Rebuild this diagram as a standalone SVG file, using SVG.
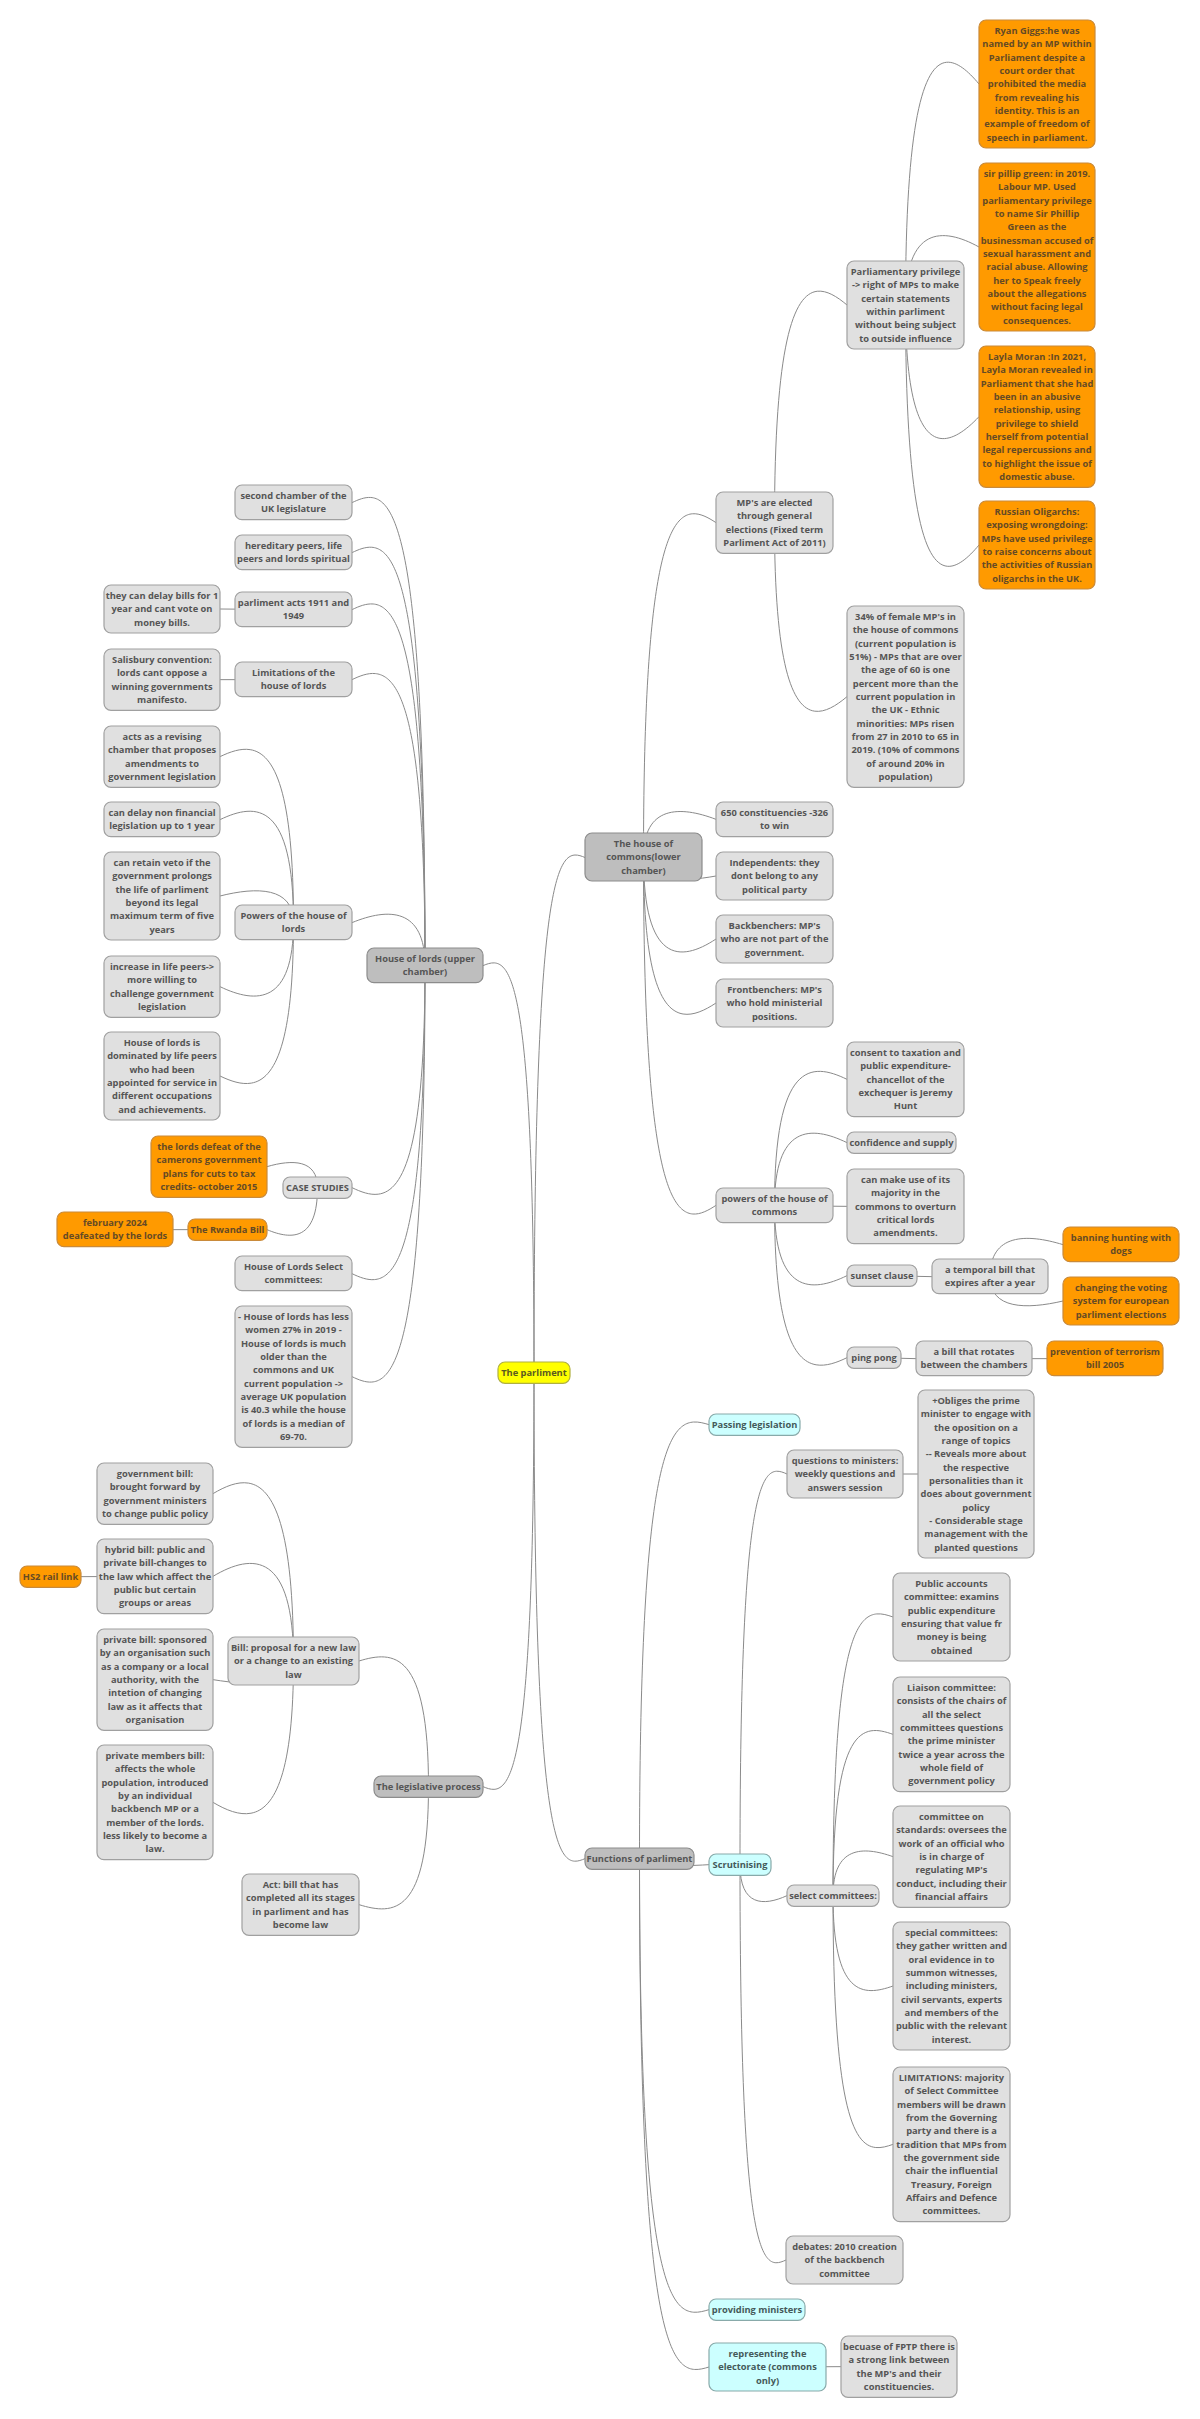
<svg xmlns="http://www.w3.org/2000/svg" width="1200" height="2419" viewBox="0 0 1200 2419">
<style>
.bg{fill:#ffffff}
.e path{fill:none;stroke:#8a8a8a;stroke-width:1}
rect{rx:7px;ry:7px;stroke-width:1.2}
.n rect{fill:#e0e0e0;stroke:#a0a0a0}
.m rect{fill:#bebebe;stroke:#8c8c8c}
.o rect{fill:#ff9a00;stroke:#c98a3a}
.c rect{fill:#ccffff;stroke:#88aaaa}
.r rect{fill:#ffff00;stroke:#b0b040}
text{font-family:"Open Sans","Noto Sans","DejaVu Sans",sans-serif;font-weight:700;font-size:9.3px;fill:#555555;text-anchor:middle}
.o text{fill:#654a25}
.c text{fill:#445a5a}
.r text{fill:#5a5a20}
</style>
<rect class="bg" x="0" y="0" width="1200" height="2419"/>
<g id="connectors" class="e">
<path d="M534 1372.65 C534 846.85 559.5 846.85 585 857.5"/>
<path d="M534 1372.65 C534 954.85 508.5 954.85 483 965.65"/>
<path d="M534 1372.65 C534 1797.3 508.5 1797.3 483 1786.65"/>
<path d="M534 1372.65 C534 1869.3 559.5 1869.3 585 1858.65"/>
<path d="M643.5 857 C643.5 498.5 679.75 498.5 716 522.65"/>
<path d="M643.5 857 C643.5 805.5 679.75 805.5 716 819.35"/>
<path d="M643.5 857 C643.5 882.5 679.75 882.5 716 876"/>
<path d="M643.5 857 C643.5 963 679.75 963 716 939"/>
<path d="M643.5 857 C643.5 1027 679.75 1027 716 1003"/>
<path d="M643.5 857 C643.5 1229.3 679.75 1229.3 716 1205.35"/>
<path d="M774.5 522.65 C774.5 274.35 810.75 274.35 847 305"/>
<path d="M774.5 522.65 C774.5 727.3 810.75 727.3 847 696.65"/>
<path d="M905.5 305 C905.5 40 942.25 40 979 84"/>
<path d="M905.5 305 C905.5 226.7 942.25 226.7 979 247"/>
<path d="M905.5 305 C905.5 455.8 942.25 455.8 979 416.65"/>
<path d="M905.5 305 C905.5 589 942.25 589 979 545"/>
<path d="M774.5 1205.65 C774.5 1061.65 810.75 1061.65 847 1079.35"/>
<path d="M774.5 1205.65 C774.5 1125 810.75 1125 847 1142.65"/>
<path d="M774.5 1205.65 L847 1206.35"/>
<path d="M774.5 1205.65 C774.5 1293.3 810.75 1293.3 847 1275.65"/>
<path d="M774.5 1205.65 C774.5 1375.3 810.75 1375.3 847 1357.65"/>
<path d="M882 1275.65 L932 1276.65"/>
<path d="M990 1276.65 C990 1233.45 1026.5 1233.45 1063 1244.65"/>
<path d="M990 1276.65 C990 1309.5 1026.5 1309.5 1063 1301"/>
<path d="M874 1357.65 L916 1358.65"/>
<path d="M974 1358.65 L1047 1358.65"/>
<path d="M639.5 1858.65 C639.5 1414 674.25 1414 709 1424.65"/>
<path d="M639.5 1858.65 C639.5 1866.75 674.25 1866.75 709 1864.65"/>
<path d="M639.5 1858.65 C639.5 2320.3 674.25 2320.3 709 2309.65"/>
<path d="M639.5 1858.65 C639.5 2377.65 674.25 2377.65 709 2367"/>
<path d="M740 1864.65 C740 1463.35 763.5 1463.35 787 1474"/>
<path d="M740 1864.65 C740 1906.3 763.5 1906.3 787 1895.65"/>
<path d="M740 1864.65 C740 2270.65 763 2270.65 786 2260"/>
<path d="M845 1474 L918 1474"/>
<path d="M833 1895.65 C833 1606.35 863 1606.35 893 1617"/>
<path d="M833 1895.65 C833 1723.65 863 1723.65 893 1734.35"/>
<path d="M833 1895.65 C833 1846 863 1846 893 1856.65"/>
<path d="M833 1895.65 C833 1996.65 863 1996.65 893 1986"/>
<path d="M833 1895.65 C833 2155 863 2155 893 2144.35"/>
<path d="M767.5 2367 L841 2366.65"/>
<path d="M425 965.65 C425 485 388.5 485 352 502.65"/>
<path d="M425 965.65 C425 535 388.5 535 352 552.65"/>
<path d="M425 965.65 C425 592 388.5 592 352 609.65"/>
<path d="M425 965.65 C425 662 388.5 662 352 679.65"/>
<path d="M425 965.65 C425 907.6 388.5 907.6 352 922.65"/>
<path d="M425 965.65 C425 1205.3 388.5 1205.3 352 1187.65"/>
<path d="M425 965.65 C425 1291.3 388.5 1291.3 352 1273.65"/>
<path d="M425 965.65 C425 1394.3 388.5 1394.3 352 1376.65"/>
<path d="M293.5 609.65 L220 609"/>
<path d="M293.5 679.65 L220 679.65"/>
<path d="M293.5 922.65 C293.5 739 256.75 739 220 756.65"/>
<path d="M293.5 922.65 C293.5 802 256.75 802 220 819.65"/>
<path d="M293.5 922.65 C293.5 886.7 256.75 886.7 220 896"/>
<path d="M293.5 922.65 C293.5 1004.3 256.75 1004.3 220 986.65"/>
<path d="M293.5 922.65 C293.5 1093.65 256.75 1093.65 220 1076"/>
<path d="M317.5 1187.65 C317.5 1159.3 292.25 1159.3 267 1166.65"/>
<path d="M317.5 1187.65 C317.5 1240.3 292.25 1240.3 267 1229.65"/>
<path d="M227.5 1229.65 L173 1229.65"/>
<path d="M428.5 1786.65 C428.5 1650.35 393.75 1650.35 359 1661"/>
<path d="M428.5 1786.65 C428.5 1915.3 393.75 1915.3 359 1904.65"/>
<path d="M293.5 1661 C293.5 1469.65 253.25 1469.65 213 1493.65"/>
<path d="M293.5 1661 C293.5 1552.3 253.25 1552.3 213 1576.35"/>
<path d="M293.5 1661 C293.5 1686.2 253.25 1686.2 213 1679.65"/>
<path d="M293.5 1661 C293.5 1826.3 253.25 1826.3 213 1802.35"/>
<path d="M155 1576.35 L81 1576.65"/>
</g>

<g id="root" class="r"><rect x="498" y="1362" width="72" height="21.3"/><text y="1376"><tspan x="534">The parliment</tspan></text></g>

<g id="commons" class="m"><rect x="585" y="833" width="117" height="48"/><text y="847"><tspan x="643.5">The house of</tspan><tspan x="643.5" dy="13.33">commons(lower</tspan><tspan x="643.5" dy="13.33">chamber)</tspan></text></g>
<g id="mps-elected" class="n"><rect x="716" y="492" width="117" height="61.3"/><text y="506"><tspan x="774.5">MP's are elected</tspan><tspan x="774.5" dy="13.33">through general</tspan><tspan x="774.5" dy="13.33">elections (Fixed term</tspan><tspan x="774.5" dy="13.33">Parliment Act of 2011)</tspan></text></g>
<g id="privilege" class="n"><rect x="847" y="261" width="117" height="88"/><text y="275"><tspan x="905.5">Parliamentary privilege</tspan><tspan x="905.5" dy="13.33">-&gt; right of MPs to make</tspan><tspan x="905.5" dy="13.33">certain statements</tspan><tspan x="905.5" dy="13.33">within parliment</tspan><tspan x="905.5" dy="13.33">without being subject</tspan><tspan x="905.5" dy="13.33">to outside influence</tspan></text></g>
<g id="giggs" class="o"><rect x="979" y="20" width="116" height="128"/><text y="34"><tspan x="1037">Ryan Giggs:he was</tspan><tspan x="1037" dy="13.33">named by an MP within</tspan><tspan x="1037" dy="13.33">Parliament despite a</tspan><tspan x="1037" dy="13.33">court order that</tspan><tspan x="1037" dy="13.33">prohibited the media</tspan><tspan x="1037" dy="13.33">from revealing his</tspan><tspan x="1037" dy="13.33">identity. This is an</tspan><tspan x="1037" dy="13.33">example of freedom of</tspan><tspan x="1037" dy="13.33">speech in parliament.</tspan></text></g>
<g id="green" class="o"><rect x="979" y="163" width="116" height="168"/><text y="177"><tspan x="1037">sir pillip green: in 2019.</tspan><tspan x="1037" dy="13.33">Labour MP. Used</tspan><tspan x="1037" dy="13.33">parliamentary privilege</tspan><tspan x="1037" dy="13.33">to name Sir Phillip</tspan><tspan x="1037" dy="13.33">Green as the</tspan><tspan x="1037" dy="13.33">businessman accused of</tspan><tspan x="1037" dy="13.33">sexual harassment and</tspan><tspan x="1037" dy="13.33">racial abuse. Allowing</tspan><tspan x="1037" dy="13.33">her to Speak freely</tspan><tspan x="1037" dy="13.33">about the allegations</tspan><tspan x="1037" dy="13.33">without facing legal</tspan><tspan x="1037" dy="13.33">consequences.</tspan></text></g>
<g id="moran" class="o"><rect x="979" y="346" width="116" height="141.3"/><text y="360"><tspan x="1037">Layla Moran :In 2021,</tspan><tspan x="1037" dy="13.33">Layla Moran revealed in</tspan><tspan x="1037" dy="13.33">Parliament that she had</tspan><tspan x="1037" dy="13.33">been in an abusive</tspan><tspan x="1037" dy="13.33">relationship, using</tspan><tspan x="1037" dy="13.33">privilege to shield</tspan><tspan x="1037" dy="13.33">herself from potential</tspan><tspan x="1037" dy="13.33">legal repercussions and</tspan><tspan x="1037" dy="13.33">to highlight the issue of</tspan><tspan x="1037" dy="13.33">domestic abuse.</tspan></text></g>
<g id="oligarchs" class="o"><rect x="979" y="501" width="116" height="88"/><text y="515"><tspan x="1037">Russian Oligarchs:</tspan><tspan x="1037" dy="13.33">exposing wrongdoing:</tspan><tspan x="1037" dy="13.33">MPs have used privilege</tspan><tspan x="1037" dy="13.33">to raise concerns about</tspan><tspan x="1037" dy="13.33">the activities of Russian</tspan><tspan x="1037" dy="13.33">oligarchs in the UK.</tspan></text></g>
<g id="diversity" class="n"><rect x="847" y="606" width="117" height="181.3"/><text y="620"><tspan x="905.5">34% of female MP's in</tspan><tspan x="905.5" dy="13.33">the house of commons</tspan><tspan x="905.5" dy="13.33">(current population is</tspan><tspan x="905.5" dy="13.33">51%) - MPs that are over</tspan><tspan x="905.5" dy="13.33">the age of 60 is one</tspan><tspan x="905.5" dy="13.33">percent more than the</tspan><tspan x="905.5" dy="13.33">current population in</tspan><tspan x="905.5" dy="13.33">the UK - Ethnic</tspan><tspan x="905.5" dy="13.33">minorities: MPs risen</tspan><tspan x="905.5" dy="13.33">from 27 in 2010 to 65 in</tspan><tspan x="905.5" dy="13.33">2019. (10% of commons</tspan><tspan x="905.5" dy="13.33">of around 20% in</tspan><tspan x="905.5" dy="13.33">population)</tspan></text></g>
<g id="constituencies" class="n"><rect x="716" y="802" width="117" height="34.7"/><text y="816"><tspan x="774.5">650 constituencies -326</tspan><tspan x="774.5" dy="13.33">to win</tspan></text></g>
<g id="independents" class="n"><rect x="716" y="852" width="117" height="48"/><text y="866"><tspan x="774.5">Independents: they</tspan><tspan x="774.5" dy="13.33">dont belong to any</tspan><tspan x="774.5" dy="13.33">political party</tspan></text></g>
<g id="backbenchers" class="n"><rect x="716" y="915" width="117" height="48"/><text y="929"><tspan x="774.5">Backbenchers: MP's</tspan><tspan x="774.5" dy="13.33">who are not part of the</tspan><tspan x="774.5" dy="13.33">government.</tspan></text></g>
<g id="frontbenchers" class="n"><rect x="716" y="979" width="117" height="48"/><text y="993"><tspan x="774.5">Frontbenchers: MP's</tspan><tspan x="774.5" dy="13.33">who hold ministerial</tspan><tspan x="774.5" dy="13.33">positions.</tspan></text></g>
<g id="powers-commons" class="n"><rect x="716" y="1188" width="117" height="34.7"/><text y="1202"><tspan x="774.5">powers of the house of</tspan><tspan x="774.5" dy="13.33">commons</tspan></text></g>
<g id="consent" class="n"><rect x="847" y="1042" width="117" height="74.7"/><text y="1056"><tspan x="905.5">consent to taxation and</tspan><tspan x="905.5" dy="13.33">public expenditure-</tspan><tspan x="905.5" dy="13.33">chancellot of the</tspan><tspan x="905.5" dy="13.33">exchequer is Jeremy</tspan><tspan x="905.5" dy="13.33">Hunt</tspan></text></g>
<g id="confidence" class="n"><rect x="847" y="1132" width="109" height="21.3"/><text y="1146"><tspan x="901.5">confidence and supply</tspan></text></g>
<g id="majority" class="n"><rect x="847" y="1169" width="117" height="74.7"/><text y="1183"><tspan x="905.5">can make use of its</tspan><tspan x="905.5" dy="13.33">majority in the</tspan><tspan x="905.5" dy="13.33">commons to overturn</tspan><tspan x="905.5" dy="13.33">critical lords</tspan><tspan x="905.5" dy="13.33">amendments.</tspan></text></g>
<g id="sunset" class="n"><rect x="847" y="1265" width="70" height="21.3"/><text y="1279"><tspan x="882">sunset clause</tspan></text></g>
<g id="temporal" class="n"><rect x="932" y="1259" width="116" height="34.7"/><text y="1273"><tspan x="990">a temporal bill that</tspan><tspan x="990" dy="13.33">expires after a year</tspan></text></g>
<g id="hunting" class="o"><rect x="1063" y="1227" width="116" height="34.7"/><text y="1241"><tspan x="1121">banning hunting with</tspan><tspan x="1121" dy="13.33">dogs</tspan></text></g>
<g id="voting" class="o"><rect x="1063" y="1277" width="116" height="48"/><text y="1291"><tspan x="1121">changing the voting</tspan><tspan x="1121" dy="13.33">system for european</tspan><tspan x="1121" dy="13.33">parliment elections</tspan></text></g>
<g id="pingpong" class="n"><rect x="847" y="1347" width="54" height="21.3"/><text y="1361"><tspan x="874">ping pong</tspan></text></g>
<g id="rotates" class="n"><rect x="916" y="1341" width="116" height="34.7"/><text y="1355"><tspan x="974">a bill that rotates</tspan><tspan x="974" dy="13.33">between the chambers</tspan></text></g>
<g id="terrorism" class="o"><rect x="1047" y="1341" width="116" height="34.7"/><text y="1355"><tspan x="1105">prevention of terrorism</tspan><tspan x="1105" dy="13.33">bill 2005</tspan></text></g>

<g id="functions" class="m"><rect x="585" y="1848" width="109" height="21.3"/><text y="1862"><tspan x="639.5">Functions of parliment</tspan></text></g>
<g id="passing" class="c"><rect x="709" y="1414" width="91" height="21.3"/><text y="1428"><tspan x="754.5">Passing legislation</tspan></text></g>
<g id="scrutinising" class="c"><rect x="709" y="1854" width="62" height="21.3"/><text y="1868"><tspan x="740">Scrutinising</tspan></text></g>
<g id="questions" class="n"><rect x="787" y="1450" width="116" height="48"/><text y="1464"><tspan x="845">questions to ministers:</tspan><tspan x="845" dy="13.33">weekly questions and</tspan><tspan x="845" dy="13.33">answers session</tspan></text></g>
<g id="pmq" class="n"><rect x="918" y="1390" width="116" height="168"/><text y="1404"><tspan x="976">+Obliges the prime</tspan><tspan x="976" dy="13.33">minister to engage with</tspan><tspan x="976" dy="13.33">the oposition on a</tspan><tspan x="976" dy="13.33">range of topics</tspan><tspan x="976" dy="13.33">-- Reveals more about</tspan><tspan x="976" dy="13.33">the respective</tspan><tspan x="976" dy="13.33">personalities than it</tspan><tspan x="976" dy="13.33">does about government</tspan><tspan x="976" dy="13.33">policy</tspan><tspan x="976" dy="13.33">- Considerable stage</tspan><tspan x="976" dy="13.33">management with the</tspan><tspan x="976" dy="13.33">planted questions</tspan></text></g>
<g id="select" class="n"><rect x="787" y="1885" width="92" height="21.3"/><text y="1899"><tspan x="833">select committees:</tspan></text></g>
<g id="public-accounts" class="n"><rect x="893" y="1573" width="117" height="88"/><text y="1587"><tspan x="951.5">Public accounts</tspan><tspan x="951.5" dy="13.33">committee: examins</tspan><tspan x="951.5" dy="13.33">public expenditure</tspan><tspan x="951.5" dy="13.33">ensuring that value fr</tspan><tspan x="951.5" dy="13.33">money is being</tspan><tspan x="951.5" dy="13.33">obtained</tspan></text></g>
<g id="liaison" class="n"><rect x="893" y="1677" width="117" height="114.7"/><text y="1691"><tspan x="951.5">Liaison committee:</tspan><tspan x="951.5" dy="13.33">consists of the chairs of</tspan><tspan x="951.5" dy="13.33">all the select</tspan><tspan x="951.5" dy="13.33">committees questions</tspan><tspan x="951.5" dy="13.33">the prime minister</tspan><tspan x="951.5" dy="13.33">twice a year across the</tspan><tspan x="951.5" dy="13.33">whole field of</tspan><tspan x="951.5" dy="13.33">government policy</tspan></text></g>
<g id="standards" class="n"><rect x="893" y="1806" width="117" height="101.3"/><text y="1820"><tspan x="951.5">committee on</tspan><tspan x="951.5" dy="13.33">standards: oversees the</tspan><tspan x="951.5" dy="13.33">work of an official who</tspan><tspan x="951.5" dy="13.33">is in charge of</tspan><tspan x="951.5" dy="13.33">regulating MP's</tspan><tspan x="951.5" dy="13.33">conduct, including their</tspan><tspan x="951.5" dy="13.33">financial affairs</tspan></text></g>
<g id="special" class="n"><rect x="893" y="1922" width="117" height="128"/><text y="1936"><tspan x="951.5">special committees:</tspan><tspan x="951.5" dy="13.33">they gather written and</tspan><tspan x="951.5" dy="13.33">oral evidence in to</tspan><tspan x="951.5" dy="13.33">summon witnesses,</tspan><tspan x="951.5" dy="13.33">including ministers,</tspan><tspan x="951.5" dy="13.33">civil servants, experts</tspan><tspan x="951.5" dy="13.33">and members of the</tspan><tspan x="951.5" dy="13.33">public with the relevant</tspan><tspan x="951.5" dy="13.33">interest.</tspan></text></g>
<g id="sc-limitations" class="n"><rect x="893" y="2067" width="117" height="154.7"/><text y="2081"><tspan x="951.5">LIMITATIONS: majority</tspan><tspan x="951.5" dy="13.33">of Select Committee</tspan><tspan x="951.5" dy="13.33">members will be drawn</tspan><tspan x="951.5" dy="13.33">from the Governing</tspan><tspan x="951.5" dy="13.33">party and there is a</tspan><tspan x="951.5" dy="13.33">tradition that MPs from</tspan><tspan x="951.5" dy="13.33">the government side</tspan><tspan x="951.5" dy="13.33">chair the influential</tspan><tspan x="951.5" dy="13.33">Treasury, Foreign</tspan><tspan x="951.5" dy="13.33">Affairs and Defence</tspan><tspan x="951.5" dy="13.33">committees.</tspan></text></g>
<g id="debates" class="n"><rect x="786" y="2236" width="117" height="48"/><text y="2250"><tspan x="844.5">debates: 2010 creation</tspan><tspan x="844.5" dy="13.33">of the backbench</tspan><tspan x="844.5" dy="13.33">committee</tspan></text></g>
<g id="providing" class="c"><rect x="709" y="2299" width="96" height="21.3"/><text y="2313"><tspan x="757">providing ministers</tspan></text></g>
<g id="representing" class="c"><rect x="709" y="2343" width="117" height="48"/><text y="2357"><tspan x="767.5">representing the</tspan><tspan x="767.5" dy="13.33">electorate (commons</tspan><tspan x="767.5" dy="13.33">only)</tspan></text></g>
<g id="fptp" class="n"><rect x="841" y="2336" width="116" height="61.3"/><text y="2350"><tspan x="899">becuase of FPTP there is</tspan><tspan x="899" dy="13.33">a strong link between</tspan><tspan x="899" dy="13.33">the MP's and their</tspan><tspan x="899" dy="13.33">constituencies.</tspan></text></g>

<g id="lords" class="m"><rect x="367" y="948" width="116" height="34.7"/><text y="962"><tspan x="425">House of lords (upper</tspan><tspan x="425" dy="13.33">chamber)</tspan></text></g>
<g id="second-chamber" class="n"><rect x="235" y="485" width="117" height="34.7"/><text y="499"><tspan x="293.5">second chamber of the</tspan><tspan x="293.5" dy="13.33">UK legislature</tspan></text></g>
<g id="peers" class="n"><rect x="235" y="535" width="117" height="34.7"/><text y="549"><tspan x="293.5">hereditary peers, life</tspan><tspan x="293.5" dy="13.33">peers and lords spiritual</tspan></text></g>
<g id="acts" class="n"><rect x="235" y="592" width="117" height="34.7"/><text y="606"><tspan x="293.5">parliment acts 1911 and</tspan><tspan x="293.5" dy="13.33">1949</tspan></text></g>
<g id="delay-bills" class="n"><rect x="104" y="585" width="116" height="48"/><text y="599"><tspan x="162">they can delay bills for 1</tspan><tspan x="162" dy="13.33">year and cant vote on</tspan><tspan x="162" dy="13.33">money bills.</tspan></text></g>
<g id="limitations" class="n"><rect x="235" y="662" width="117" height="34.7"/><text y="676"><tspan x="293.5">Limitations of the</tspan><tspan x="293.5" dy="13.33">house of lords</tspan></text></g>
<g id="salisbury" class="n"><rect x="104" y="649" width="116" height="61.3"/><text y="663"><tspan x="162">Salisbury convention:</tspan><tspan x="162" dy="13.33">lords cant oppose a</tspan><tspan x="162" dy="13.33">winning governments</tspan><tspan x="162" dy="13.33">manifesto.</tspan></text></g>
<g id="powers-lords" class="n"><rect x="235" y="905" width="117" height="34.7"/><text y="919"><tspan x="293.5">Powers of the house of</tspan><tspan x="293.5" dy="13.33">lords</tspan></text></g>
<g id="revising" class="n"><rect x="104" y="726" width="116" height="61.3"/><text y="740"><tspan x="162">acts as a revising</tspan><tspan x="162" dy="13.33">chamber that proposes</tspan><tspan x="162" dy="13.33">amendments to</tspan><tspan x="162" dy="13.33">government legislation</tspan></text></g>
<g id="non-financial" class="n"><rect x="104" y="802" width="116" height="34.7"/><text y="816"><tspan x="162">can delay non financial</tspan><tspan x="162" dy="13.33">legislation up to 1 year</tspan></text></g>
<g id="veto" class="n"><rect x="104" y="852" width="116" height="88"/><text y="866"><tspan x="162">can retain veto if the</tspan><tspan x="162" dy="13.33">government prolongs</tspan><tspan x="162" dy="13.33">the life of parliment</tspan><tspan x="162" dy="13.33">beyond its legal</tspan><tspan x="162" dy="13.33">maximum term of five</tspan><tspan x="162" dy="13.33">years</tspan></text></g>
<g id="life-peers" class="n"><rect x="104" y="956" width="116" height="61.3"/><text y="970"><tspan x="162">increase in life peers-&gt;</tspan><tspan x="162" dy="13.33">more willing to</tspan><tspan x="162" dy="13.33">challenge government</tspan><tspan x="162" dy="13.33">legislation</tspan></text></g>
<g id="dominated" class="n"><rect x="104" y="1032" width="116" height="88"/><text y="1046"><tspan x="162">House of lords is</tspan><tspan x="162" dy="13.33">dominated by life peers</tspan><tspan x="162" dy="13.33">who had been</tspan><tspan x="162" dy="13.33">appointed for service in</tspan><tspan x="162" dy="13.33">different occupations</tspan><tspan x="162" dy="13.33">and achievements.</tspan></text></g>
<g id="case-studies" class="n"><rect x="283" y="1177" width="69" height="21.3"/><text y="1191"><tspan x="317.5">CASE STUDIES</tspan></text></g>
<g id="tax-credits" class="o"><rect x="151" y="1136" width="116" height="61.3"/><text y="1150"><tspan x="209">the lords defeat of the</tspan><tspan x="209" dy="13.33">camerons government</tspan><tspan x="209" dy="13.33">plans for cuts to tax</tspan><tspan x="209" dy="13.33">credits- october 2015</tspan></text></g>
<g id="rwanda" class="o"><rect x="188" y="1219" width="79" height="21.3"/><text y="1233"><tspan x="227.5">The Rwanda Bill</tspan></text></g>
<g id="feb-2024" class="o"><rect x="57" y="1212" width="116" height="34.7"/><text y="1226"><tspan x="115">february 2024</tspan><tspan x="115" dy="13.33">deafeated by the lords</tspan></text></g>
<g id="lords-select" class="n"><rect x="235" y="1256" width="117" height="34.7"/><text y="1270"><tspan x="293.5">House of Lords Select</tspan><tspan x="293.5" dy="13.33">committees:</tspan></text></g>
<g id="lords-stats" class="n"><rect x="235" y="1306" width="117" height="141.3"/><text y="1320"><tspan x="293.5">- House of lords has less</tspan><tspan x="293.5" dy="13.33">women 27% in 2019 -</tspan><tspan x="293.5" dy="13.33">House of lords is much</tspan><tspan x="293.5" dy="13.33">older than the</tspan><tspan x="293.5" dy="13.33">commons and UK</tspan><tspan x="293.5" dy="13.33">current population -&gt;</tspan><tspan x="293.5" dy="13.33">average UK population</tspan><tspan x="293.5" dy="13.33">is 40.3 while the house</tspan><tspan x="293.5" dy="13.33">of lords is a median of</tspan><tspan x="293.5" dy="13.33">69-70.</tspan></text></g>

<g id="legislative" class="m"><rect x="374" y="1776" width="109" height="21.3"/><text y="1790"><tspan x="428.5">The legislative process</tspan></text></g>
<g id="bill" class="n"><rect x="228" y="1637" width="131" height="48"/><text y="1651"><tspan x="293.5">Bill: proposal for a new law</tspan><tspan x="293.5" dy="13.33">or a change to an existing</tspan><tspan x="293.5" dy="13.33">law</tspan></text></g>
<g id="act" class="n"><rect x="242" y="1874" width="117" height="61.3"/><text y="1888"><tspan x="300.5">Act: bill that has</tspan><tspan x="300.5" dy="13.33">completed all its stages</tspan><tspan x="300.5" dy="13.33">in parliment and has</tspan><tspan x="300.5" dy="13.33">become law</tspan></text></g>
<g id="gov-bill" class="n"><rect x="97" y="1463" width="116" height="61.3"/><text y="1477"><tspan x="155">government bill:</tspan><tspan x="155" dy="13.33">brought forward by</tspan><tspan x="155" dy="13.33">government ministers</tspan><tspan x="155" dy="13.33">to change public policy</tspan></text></g>
<g id="hybrid-bill" class="n"><rect x="97" y="1539" width="116" height="74.7"/><text y="1553"><tspan x="155">hybrid bill: public and</tspan><tspan x="155" dy="13.33">private bill-changes to</tspan><tspan x="155" dy="13.33">the law which affect the</tspan><tspan x="155" dy="13.33">public but certain</tspan><tspan x="155" dy="13.33">groups or areas</tspan></text></g>
<g id="hs2" class="o"><rect x="20" y="1566" width="61" height="21.3"/><text y="1580"><tspan x="50.5">HS2 rail link</tspan></text></g>
<g id="private-bill" class="n"><rect x="97" y="1629" width="116" height="101.3"/><text y="1643"><tspan x="155">private bill: sponsored</tspan><tspan x="155" dy="13.33">by an organisation such</tspan><tspan x="155" dy="13.33">as a company or a local</tspan><tspan x="155" dy="13.33">authority, with the</tspan><tspan x="155" dy="13.33">intetion of changing</tspan><tspan x="155" dy="13.33">law as it affects that</tspan><tspan x="155" dy="13.33">organisation</tspan></text></g>
<g id="pmb" class="n"><rect x="97" y="1745" width="116" height="114.7"/><text y="1759"><tspan x="155">private members bill:</tspan><tspan x="155" dy="13.33">affects the whole</tspan><tspan x="155" dy="13.33">population, introduced</tspan><tspan x="155" dy="13.33">by an individual</tspan><tspan x="155" dy="13.33">backbench MP or a</tspan><tspan x="155" dy="13.33">member of the lords.</tspan><tspan x="155" dy="13.33">less likely to become a</tspan><tspan x="155" dy="13.33">law.</tspan></text></g>
</svg>
